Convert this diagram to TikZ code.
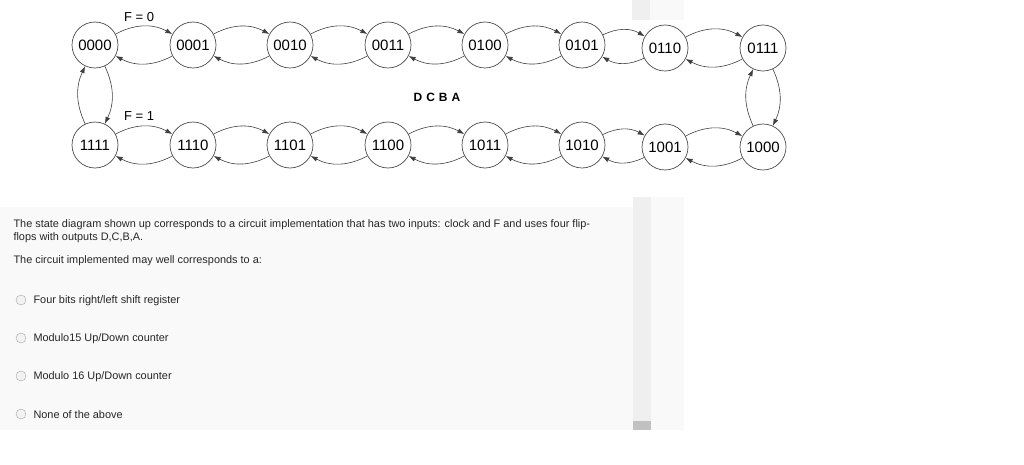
\documentclass[tikz,border=0pt]{standalone}
\usepackage{fontspec}
\setmainfont{Liberation Sans}
\usetikzlibrary{arrows.meta}
\definecolor{panel}{HTML}{F9F9F9}
\definecolor{sbar}{HTML}{EFEFEF}
\definecolor{thumb}{HTML}{C1C1C1}
\begin{document}
\begin{tikzpicture}[x=1pt,y=-1pt,
  st/.style={circle,draw=black!70,line width=0.7pt,minimum size=46pt,inner sep=0pt,font=\fontsize{15}{16}\selectfont},
  tr/.style={-{Latex[length=7pt,width=5pt]},line width=0.6pt,black!75,bend left=28},
  txt/.style={anchor=west,font=\fontsize{10.9}{12}\selectfont,color=black!85}]
\useasboundingbox (0,0) rectangle (1024,465);
\fill[white] (0,0) rectangle (1024,465);
\fill[panel] (0,207) rectangle (633,430);
\fill[panel] (633,197) rectangle (684,430);
\fill[sbar] (633,197) rectangle (651,430);
\fill[thumb] (633,421) rectangle (651,430);
\fill[sbar] (632,0) rectangle (650,20);
\fill[panel] (650,0) rectangle (684,20);
% top row
\node[st] (a0) at (95,45) {0000};
\node[st] (a1) at (193,45) {0001};
\node[st] (a2) at (290,45) {0010};
\node[st] (a3) at (388,45) {0011};
\node[st] (a4) at (485,45) {0100};
\node[st] (a5) at (582,45) {0101};
\node[st] (a6) at (665,48) {0110};
\node[st] (a7) at (763,48) {0111};
% bottom row
\node[st] (b0) at (95,145) {1111};
\node[st] (b1) at (193,145) {1110};
\node[st] (b2) at (290,145) {1101};
\node[st] (b3) at (388,145) {1100};
\node[st] (b4) at (485,145) {1011};
\node[st] (b5) at (582,145) {1010};
\node[st] (b6) at (665,147) {1001};
\node[st] (b7) at (763,147) {1000};
\foreach \i/\j in {0/1,1/2,2/3,3/4,4/5,5/6,6/7}{
  \draw[tr] (a\i) to (a\j);
  \draw[tr] (a\j) to (a\i);
  \draw[tr] (b\i) to (b\j);
  \draw[tr] (b\j) to (b\i);
}
\draw[tr,bend left=25] (a0) to (b0);
\draw[tr,bend left=25] (b0) to (a0);
\draw[tr,bend left=25] (a7) to (b7);
\draw[tr,bend left=25] (b7) to (a7);
\node[font=\fontsize{13}{14}\selectfont] (f0) at (139,17) {F = 0};
\node[font=\fontsize{13}{14}\selectfont] (f1) at (139,116) {F = 1};
\node[font=\bfseries\fontsize{12}{14}\selectfont] (dcba) at (437,97) {D\,\,C\,\,B\,\,A};
% question text
\node[txt] (q1) at (10,225) {The state diagram shown up corresponds to a circuit implementation that has two inputs: clock and F and uses four flip-};
\node[txt] (q2) at (10,238) {flops with outputs D,C,B,A.};
\node[txt] (q3) at (10,261) {The circuit implemented may well corresponds to a:};
\foreach \y/\t [count=\k] in {301/{Four bits right/left shift register},339/{Modulo15 Up/Down counter},377/{Modulo 16 Up/Down counter},415/{None of the above}}{
  \node[circle,draw=black!35,fill=black!5,minimum size=10pt,inner sep=0pt] (r\k) at (21,\y-1) {};
  \node[txt] (o\k) at (30,\y) {\t};
}
\end{tikzpicture}
\end{document}
